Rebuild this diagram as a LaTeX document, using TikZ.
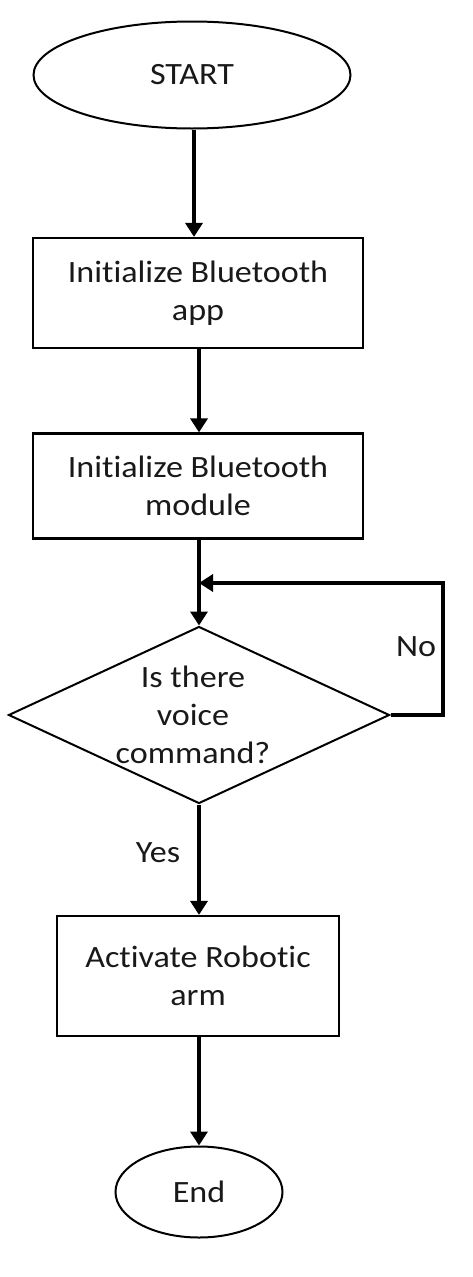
\documentclass[tikz,border=0pt]{standalone}
\usepackage{fontspec}
\setmainfont{Carlito}[FakeStretch=1.1,Ligatures=NoCommon]
\usetikzlibrary{shapes.geometric,arrows.meta}
\begin{document}
\begin{tikzpicture}[x=1pt,y=-1pt,
  every node/.style={font=\fontsize{31}{38}\selectfont, text=black!90},
  term/.style={ellipse, draw, line width=2pt, inner sep=0pt},
  proc/.style={rectangle, draw, line width=2.2pt, inner sep=0pt, align=center},
  decis/.style={diamond, draw, line width=2pt, inner sep=0pt},
  flow/.style={line width=3.5pt, -{Triangle[width=17pt,length=14pt]}}]
\useasboundingbox (0,0) rectangle (473,1277);
\node[term, minimum width=317pt, minimum height=107pt] (start) at (192,75) {START};
\node[proc, minimum width=330pt, minimum height=110pt] (b1) at (198,293) {Initialize Bluetooth\\app};
\node[proc, minimum width=330pt, minimum height=105pt] (b2) at (198,486) {Initialize Bluetooth\\module};
\node[decis, minimum width=381pt, minimum height=177pt] (dec) at (199,715) {};
\node[align=center] (dect) at (193,715) {Is there\\voice\\command?};
\node[proc, minimum width=282pt, minimum height=120pt] (b3) at (198,976) {Activate Robotic\\arm};
\node[term, minimum width=167pt, minimum height=91pt] (end) at (199,1192) {End};
\coordinate (fbR) at (443,715);
\coordinate (fbT) at (443,583);
\coordinate (fbJ) at (199,583);
\draw[flow] (start.south -| 194,0) -- (b1.north -| 194,0);
\draw[flow] (b1.south -| 199,0) -- (b2.north -| 199,0);
\draw[flow] (b2.south -| dec.north) -- (dec.north);
\draw[flow] (dec.east) -- (fbR) -- (fbT) -- (fbJ);
\draw[flow] (dec.south) -- (b3.north -| dec.south);
\draw[flow] (b3.south -| end.north) -- (end.north);
\node (no) at (416,647) {No};
\node (yes) at (158,853) {Yes};
\end{tikzpicture}
\end{document}
